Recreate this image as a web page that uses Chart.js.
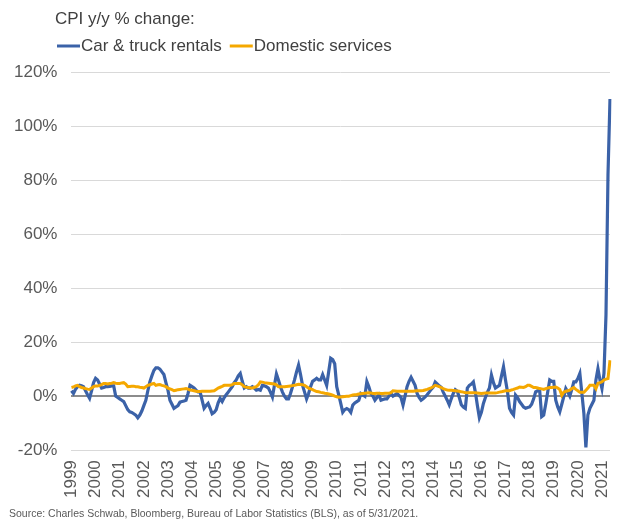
<!DOCTYPE html>
<html>
<head>
<meta charset="utf-8">
<script src="https://cdn.jsdelivr.net/npm/chart.js@4/dist/chart.umd.min.js"></script>
<style>
html,body{margin:0;padding:0;background:#fff;}
#wrap{width:624px;height:522px;}
</style>
</head>
<body>
<div id="wrap"><canvas id="c" width="624" height="522"></canvas></div>
<script>
const years = ['1999','2000','2001','2002','2003','2004','2005','2006','2007','2008','2009','2010','2011','2012','2013','2014','2015','2016','2017','2018','2019','2020','2021'];
const monthsInLastYear = 5;

const carTruckRentals = [
  2, 1, 2.5, 3.5, 4, 3.8, 3.5, 2, 0.5, -0.8, 2, 5,
  6.6, 6, 4.5, 3, 3.2, 3.5, 3.5, 3.6, 3.8, 3.8, 0, -0.5,
  -1, -1.5, -2, -3.5, -5, -5.8, -6, -6.5, -7, -8, -7, -5.5,
  -3.5, -1.5, 2, 5.3, 7.5, 9.5, 10.5, 10.5, 10, 9, 8, 5,
  2.2, -1.5, -3, -4.5, -4, -3.5, -2.2, -2, -1.8, -1.5, 1, 4,
  3.5, 3, 2.2, 1.6, 1.6, -1.5, -4.5, -3.5, -2.7, -4.5, -6.5, -6,
  -5, -2.5, -0.8, -2, -0.5, 0.5, 1.5, 2.5, 3.5, 5, 6, 7.5,
  8.4, 5.5, 3, 3.5, 3, 3, 3.5, 3, 2.2, 2.5, 2.2, 4,
  3.8, 3.5, 3, 1.5, -0.3, 4, 8.2, 6, 3.5, 1.5, 0, -1,
  -1, 1, 3.5, 6, 9, 11.5, 8, 4, 1.5, -1, 1, 3.5,
  5.5, 6, 6.6, 6, 6, 8, 6, 4, 9, 14, 13.5, 12,
  3.5, 0.5, -2.7, -6, -5, -4.6, -5, -6, -3.3, -2.5, -2, -1.5,
  1, 0.5, 0, 5.4, 3.5, 1, 0, -1.5, -0.5, 0.5, -1.5, -1.2,
  -1, -1, 0, 1, 0, 0.5, 1, 0.3, -0.5, -3.3, 0, 3.5,
  5.5, 7, 5.5, 4, 1, -0.5, -1.5, -1, -0.3, 0.5, 1.5, 2.5,
  3.3, 5.2, 4.5, 3.8, 3.3, 1.5, 0, -1.5, -3.2, -1, 1, 2.4,
  1.8, -0.5, -3.2, -4, -4.5, 3, 4, 4.5, 5.3, 1.5, -3.5, -8,
  -6, -2.7, -0.5, 1.5, 3, 7.8, 5, 3, 3.5, 4, 7.5, 10.9,
  6, 1.5, -4.5, -6, -7, 0.4, -0.5, -2, -3, -4, -4.5, -4.2,
  -4, -3, -1, 1.6, 2, 2.2, -7.6, -7, -3, 1.5, 6, 5.5,
  5.5, -1.5, -4, -5.8, -3, -0.2, 2.8, 1.5, 0, 2.5, 5.3, 5.3,
  6.5, 8.4, 1, -6.4, -19, -7, -4.5, -3, -1.5, 6, 10.2, 6,
  2.8, 8.4, 30, 82, 110
];

const domesticServices = [
  3.2, 3.4, 3.8, 4, 3.5, 3.2, 3, 2.8, 2.6, 2.5, 3, 3.5,
  3.8, 3.8, 4, 4.3, 4.7, 4.7, 4.5, 4.7, 4.8, 5, 4.8, 4.7,
  4.7, 4.9, 5, 4.5, 3.5, 3.6, 3.7, 3.7, 3.5, 3.5, 3.3, 3.2,
  3, 3.5, 4, 4.2, 4.5, 4.7, 4, 4.2, 4.3, 4, 3.8, 3.5,
  3, 2.7, 2.4, 2, 2.2, 2.4, 2.5, 2.6, 2.7, 2.8, 2.6, 2.3,
  2.2, 2, 1.8, 1.7, 1.7, 1.8, 1.8, 1.8, 1.8, 1.8, 1.9, 2,
  2.5, 3, 3.3, 3.6, 4, 4, 4, 4, 4.3, 4.7, 4.7, 4.7,
  4.7, 4.2, 3.5, 3.3, 3.2, 3, 3, 3.3, 3.5, 4.2, 5.3, 5.2,
  5, 4.9, 4.8, 4.7, 4.6, 4.5, 4.2, 3.5, 3.5, 3.5, 3.5, 3.6,
  3.7, 3.8, 3.9, 4, 4.2, 4.4, 4.3, 4.2, 4, 3.5, 3, 2.7,
  2.4, 2, 1.7, 1.6, 1.4, 1.3, 1.1, 1, 0.8, 0.6, 0.4, 0,
  -0.2, -0.4, -0.3, -0.2, -0.1, 0, 0, 0.2, 0.4, 0.5, 0.6, 0.8,
  0.9, 1, 1.1, 1.2, 1.3, 1.2, 1, 1, 1.1, 1.1, 1, 1,
  1.1, 1.1, 1.1, 1.3, 2, 1.9, 1.8, 1.8, 1.8, 1.8, 1.8, 1.8,
  1.8, 1.8, 1.8, 1.9, 2, 2, 2, 2.1, 2.3, 2.5, 2.8, 3.1,
  3.5, 4, 3.8, 3.5, 3.2, 2.8, 2.5, 2.3, 2.2, 2.2, 2.1, 2,
  1.9, 1.8, 1.6, 1.5, 1.3, 1.3, 1.3, 1.3, 1.3, 1.3, 1.2, 1.1,
  1, 1.1, 1.2, 1.2, 1.2, 1.2, 1.2, 1.2, 1.3, 1.5, 1.6, 1.8,
  2, 2, 2, 2.3, 2.5, 2.8, 3, 3.4, 3.3, 3.2, 3.5, 4,
  4, 3.6, 3.2, 3.2, 3, 2.8, 2.7, 2.5, 2.8, 3, 3.2, 3.2,
  3.3, 3.4, 3, 2.5, 0.3, 1.5, 1.8, 2, 2.2, 2.8, 3.2, 2.5,
  2, 1.4, 1.4, 1.4, 2.2, 3, 4, 4, 4, 2.8, 4.7, 5,
  5.3, 6, 6.3, 6.5, 13.3
];

const yTicks = [-20, 0, 20, 40, 60, 80, 100, 120];
const seriesNames = ['Car & truck rentals', 'Domestic services'];
const seriesColors = ['#3B62A8', '#F5A800'];
const titleText = 'CPI y/y % change:';
const sourceText = 'Source: Charles Schwab, Bloomberg, Bureau of Labor Statistics (BLS), as of 5/31/2021.';

// monthly categories
const categories = [];
years.forEach((y, yi) => {
  const n = (yi === years.length - 1) ? monthsInLastYear : 12;
  for (let m = 1; m <= n; m++) categories.push(y + '-' + String(m).padStart(2, '0'));
});

const FONT = "'Liberation Sans', Arial, sans-serif";
const TXT = '#404040';

const headerPlugin = {
  id: 'header',
  afterDraw(chart) {
    const ctx = chart.ctx;
    ctx.save();
    ctx.fillStyle = TXT;
    ctx.font = '17px ' + FONT;
    ctx.textBaseline = 'middle';
    ctx.textAlign = 'left';
    ctx.fillText(titleText, 55, 19);
    let x = 57;
    const ly = 46;
    seriesNames.forEach((name, i) => {
      ctx.strokeStyle = seriesColors[i];
      ctx.lineWidth = 3;
      ctx.beginPath();
      ctx.moveTo(x, ly);
      ctx.lineTo(x + 23, ly);
      ctx.stroke();
      ctx.fillStyle = TXT;
      ctx.fillText(name, x + 24, ly);
      x += 24 + ctx.measureText(name).width + 8;
    });
    ctx.font = '10.5px ' + FONT;
    ctx.fillStyle = '#595959';
    ctx.fillText(sourceText, 9, 514);
    ctx.restore();
  }
};

new Chart(document.getElementById('c'), {
  type: 'line',
  data: {
    labels: categories,
    datasets: [
      { label: seriesNames[0], data: carTruckRentals, borderColor: seriesColors[0], borderWidth: 3.2, pointRadius: 0, tension: 0, order: 1 },
      { label: seriesNames[1], data: domesticServices, borderColor: seriesColors[1], borderWidth: 3, pointRadius: 0, tension: 0, order: 0 }
    ]
  },
  options: {
    responsive: false,
    devicePixelRatio: 1,
    animation: false,
    layout: { padding: { top: 72, left: 0, right: 14, bottom: 14 } },
    plugins: { legend: { display: false }, title: { display: false }, tooltip: { enabled: false } },
    scales: {
      x: {
        type: 'category',
        offset: false,
        grid: { display: false, drawTicks: false },
        border: { display: false },
        afterFit: (axis) => { axis.paddingRight = 0; },
        ticks: {
          autoSkip: false,
          maxRotation: 90,
          minRotation: 90,
          padding: 10,
          color: '#595959',
          font: { family: FONT, size: 17 },
          callback: function(v, i) {
            const lab = categories[i];
            return lab.endsWith('-01') ? lab.slice(0, 4) : '';
          }
        }
      },
      y: {
        min: -20,
        max: 120,
        afterBuildTicks: (axis) => { axis.ticks = yTicks.map(v => ({ value: v })); },
        grid: {
          drawTicks: false,
          color: (c) => c.tick && c.tick.value === 0 ? '#8c8c8c' : '#d9d9d9',
          lineWidth: (c) => c.tick && c.tick.value === 0 ? 2 : 1
        },
        border: { display: false },
        ticks: {
          padding: 14,
          color: '#595959',
          font: { family: FONT, size: 17 },
          callback: (v) => v + '%'
        }
      }
    }
  },
  plugins: [headerPlugin]
});
</script>
</body>
</html>
